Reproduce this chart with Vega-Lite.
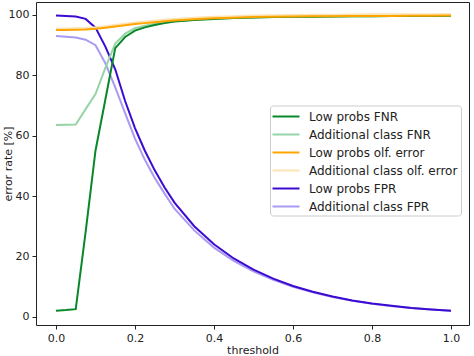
{
  "$schema": "https://vega.github.io/schema/vega-lite/v6.json",
  "width": 433,
  "height": 323,
  "autosize": "none",
  "padding": {"left": 36, "top": 2, "right": 5, "bottom": 31},
  "background": "white",
  "config": {
    "view": {"stroke": "#222", "strokeWidth": 1},
    "font": "DejaVu Sans",
    "axis": {
      "domain": false, "grid": false, "tickColor": "#222", "tickSize": 4, "tickWidth": 1,
      "labelFont": "DejaVu Sans", "labelFontSize": 11, "labelColor": "#222", "labelPadding": 3,
      "titleFont": "DejaVu Sans", "titleFontSize": 11, "titleFontWeight": "normal", "titleColor": "#222"
    }
  },
  "data": {"values": [
    {"s":"Additional class FPR","t":0,"v":93.0},{"s":"Additional class FPR","t":0.025,"v":92.8},{"s":"Additional class FPR","t":0.05,"v":92.5},{"s":"Additional class FPR","t":0.075,"v":91.8},{"s":"Additional class FPR","t":0.1,"v":90.0},{"s":"Additional class FPR","t":0.125,"v":84.0},{"s":"Additional class FPR","t":0.15,"v":76.0},{"s":"Additional class FPR","t":0.175,"v":67.5},{"s":"Additional class FPR","t":0.2,"v":59.0},{"s":"Additional class FPR","t":0.225,"v":52.0},{"s":"Additional class FPR","t":0.25,"v":46.0},{"s":"Additional class FPR","t":0.275,"v":40.8},{"s":"Additional class FPR","t":0.3,"v":35.8},{"s":"Additional class FPR","t":0.35,"v":28.6},{"s":"Additional class FPR","t":0.4,"v":22.9},{"s":"Additional class FPR","t":0.45,"v":18.5},{"s":"Additional class FPR","t":0.5,"v":15.0},{"s":"Additional class FPR","t":0.55,"v":12.2},{"s":"Additional class FPR","t":0.6,"v":9.9},{"s":"Additional class FPR","t":0.65,"v":8.1},{"s":"Additional class FPR","t":0.7,"v":6.5},{"s":"Additional class FPR","t":0.75,"v":5.3},{"s":"Additional class FPR","t":0.8,"v":4.3},{"s":"Additional class FPR","t":0.85,"v":3.5},{"s":"Additional class FPR","t":0.9,"v":2.9},{"s":"Additional class FPR","t":0.95,"v":2.4},{"s":"Additional class FPR","t":1.0,"v":2.0},
    {"s":"Low probs FPR","t":0,"v":99.8},{"s":"Low probs FPR","t":0.025,"v":99.7},{"s":"Low probs FPR","t":0.05,"v":99.5},{"s":"Low probs FPR","t":0.075,"v":98.7},{"s":"Low probs FPR","t":0.1,"v":95.8},{"s":"Low probs FPR","t":0.125,"v":89.5},{"s":"Low probs FPR","t":0.15,"v":82.0},{"s":"Low probs FPR","t":0.175,"v":71.5},{"s":"Low probs FPR","t":0.2,"v":62.5},{"s":"Low probs FPR","t":0.225,"v":55.0},{"s":"Low probs FPR","t":0.25,"v":48.5},{"s":"Low probs FPR","t":0.275,"v":42.8},{"s":"Low probs FPR","t":0.3,"v":37.8},{"s":"Low probs FPR","t":0.35,"v":30.0},{"s":"Low probs FPR","t":0.4,"v":24.0},{"s":"Low probs FPR","t":0.45,"v":19.3},{"s":"Low probs FPR","t":0.5,"v":15.6},{"s":"Low probs FPR","t":0.55,"v":12.6},{"s":"Low probs FPR","t":0.6,"v":10.2},{"s":"Low probs FPR","t":0.65,"v":8.3},{"s":"Low probs FPR","t":0.7,"v":6.7},{"s":"Low probs FPR","t":0.75,"v":5.4},{"s":"Low probs FPR","t":0.8,"v":4.4},{"s":"Low probs FPR","t":0.85,"v":3.6},{"s":"Low probs FPR","t":0.9,"v":2.9},{"s":"Low probs FPR","t":0.95,"v":2.4},{"s":"Low probs FPR","t":1.0,"v":2.0},
    {"s":"Additional class FNR","t":0,"v":63.5},{"s":"Additional class FNR","t":0.025,"v":63.6},{"s":"Additional class FNR","t":0.05,"v":63.7},{"s":"Additional class FNR","t":0.075,"v":68.8},{"s":"Additional class FNR","t":0.1,"v":73.8},{"s":"Additional class FNR","t":0.125,"v":82.5},{"s":"Additional class FNR","t":0.15,"v":90.5},{"s":"Additional class FNR","t":0.175,"v":93.8},{"s":"Additional class FNR","t":0.2,"v":95.6},{"s":"Additional class FNR","t":0.225,"v":96.4},{"s":"Additional class FNR","t":0.25,"v":97.0},{"s":"Additional class FNR","t":0.275,"v":97.5},{"s":"Additional class FNR","t":0.3,"v":97.9},{"s":"Additional class FNR","t":0.35,"v":98.4},{"s":"Additional class FNR","t":0.4,"v":98.8},{"s":"Additional class FNR","t":0.45,"v":99.0},{"s":"Additional class FNR","t":0.5,"v":99.2},{"s":"Additional class FNR","t":0.55,"v":99.3},{"s":"Additional class FNR","t":0.6,"v":99.4},{"s":"Additional class FNR","t":0.65,"v":99.5},{"s":"Additional class FNR","t":0.7,"v":99.5},{"s":"Additional class FNR","t":0.75,"v":99.6},{"s":"Additional class FNR","t":0.8,"v":99.6},{"s":"Additional class FNR","t":0.85,"v":99.65},{"s":"Additional class FNR","t":0.9,"v":99.7},{"s":"Additional class FNR","t":0.95,"v":99.7},{"s":"Additional class FNR","t":1.0,"v":99.75},
    {"s":"Low probs FNR","t":0,"v":2.0},{"s":"Low probs FNR","t":0.025,"v":2.2},{"s":"Low probs FNR","t":0.05,"v":2.5},{"s":"Low probs FNR","t":0.075,"v":28.0},{"s":"Low probs FNR","t":0.1,"v":55.0},{"s":"Low probs FNR","t":0.125,"v":72.0},{"s":"Low probs FNR","t":0.15,"v":89.0},{"s":"Low probs FNR","t":0.175,"v":92.7},{"s":"Low probs FNR","t":0.2,"v":94.8},{"s":"Low probs FNR","t":0.225,"v":95.9},{"s":"Low probs FNR","t":0.25,"v":96.7},{"s":"Low probs FNR","t":0.275,"v":97.3},{"s":"Low probs FNR","t":0.3,"v":97.8},{"s":"Low probs FNR","t":0.35,"v":98.3},{"s":"Low probs FNR","t":0.4,"v":98.7},{"s":"Low probs FNR","t":0.45,"v":99.0},{"s":"Low probs FNR","t":0.5,"v":99.2},{"s":"Low probs FNR","t":0.55,"v":99.3},{"s":"Low probs FNR","t":0.6,"v":99.4},{"s":"Low probs FNR","t":0.65,"v":99.45},{"s":"Low probs FNR","t":0.7,"v":99.5},{"s":"Low probs FNR","t":0.75,"v":99.55},{"s":"Low probs FNR","t":0.8,"v":99.6},{"s":"Low probs FNR","t":0.85,"v":99.65},{"s":"Low probs FNR","t":0.9,"v":99.7},{"s":"Low probs FNR","t":0.95,"v":99.7},{"s":"Low probs FNR","t":1.0,"v":99.75},
    {"s":"Additional class olf. error","t":0,"v":95.5},{"s":"Additional class olf. error","t":0.025,"v":95.5},{"s":"Additional class olf. error","t":0.05,"v":95.6},{"s":"Additional class olf. error","t":0.075,"v":95.7},{"s":"Additional class olf. error","t":0.1,"v":95.9},{"s":"Additional class olf. error","t":0.125,"v":96.3},{"s":"Additional class olf. error","t":0.15,"v":96.7},{"s":"Additional class olf. error","t":0.175,"v":97.1},{"s":"Additional class olf. error","t":0.2,"v":97.5},{"s":"Additional class olf. error","t":0.225,"v":97.8},{"s":"Additional class olf. error","t":0.25,"v":98.1},{"s":"Additional class olf. error","t":0.275,"v":98.4},{"s":"Additional class olf. error","t":0.3,"v":98.7},{"s":"Additional class olf. error","t":0.35,"v":99.1},{"s":"Additional class olf. error","t":0.4,"v":99.4},{"s":"Additional class olf. error","t":0.45,"v":99.6},{"s":"Additional class olf. error","t":0.5,"v":99.8},{"s":"Additional class olf. error","t":0.55,"v":99.9},{"s":"Additional class olf. error","t":0.6,"v":100.0},{"s":"Additional class olf. error","t":0.65,"v":100.05},{"s":"Additional class olf. error","t":0.7,"v":100.1},{"s":"Additional class olf. error","t":0.75,"v":100.15},{"s":"Additional class olf. error","t":0.8,"v":100.2},{"s":"Additional class olf. error","t":0.85,"v":100.2},{"s":"Additional class olf. error","t":0.9,"v":100.25},{"s":"Additional class olf. error","t":0.95,"v":100.25},{"s":"Additional class olf. error","t":1.0,"v":100.3},
    {"s":"Low probs olf. error","t":0,"v":95.0},{"s":"Low probs olf. error","t":0.025,"v":95.0},{"s":"Low probs olf. error","t":0.05,"v":95.1},{"s":"Low probs olf. error","t":0.075,"v":95.2},{"s":"Low probs olf. error","t":0.1,"v":95.4},{"s":"Low probs olf. error","t":0.125,"v":95.8},{"s":"Low probs olf. error","t":0.15,"v":96.2},{"s":"Low probs olf. error","t":0.175,"v":96.6},{"s":"Low probs olf. error","t":0.2,"v":97.0},{"s":"Low probs olf. error","t":0.225,"v":97.3},{"s":"Low probs olf. error","t":0.25,"v":97.6},{"s":"Low probs olf. error","t":0.275,"v":97.9},{"s":"Low probs olf. error","t":0.3,"v":98.2},{"s":"Low probs olf. error","t":0.35,"v":98.6},{"s":"Low probs olf. error","t":0.4,"v":98.9},{"s":"Low probs olf. error","t":0.45,"v":99.1},{"s":"Low probs olf. error","t":0.5,"v":99.3},{"s":"Low probs olf. error","t":0.55,"v":99.4},{"s":"Low probs olf. error","t":0.6,"v":99.5},{"s":"Low probs olf. error","t":0.65,"v":99.55},{"s":"Low probs olf. error","t":0.7,"v":99.6},{"s":"Low probs olf. error","t":0.75,"v":99.65},{"s":"Low probs olf. error","t":0.8,"v":99.7},{"s":"Low probs olf. error","t":0.85,"v":99.7},{"s":"Low probs olf. error","t":0.9,"v":99.75},{"s":"Low probs olf. error","t":0.95,"v":99.75},{"s":"Low probs olf. error","t":1.0,"v":99.8}
  ]},
  "mark": {"type": "line", "strokeWidth": 2, "clip": true},
  "encoding": {
    "x": {
      "field": "t", "type": "quantitative",
      "scale": {"domain": [-0.0506, 1.0456], "nice": false, "zero": false},
      "axis": {"values": [0, 0.2, 0.4, 0.6, 0.8, 1.0], "format": ".1f", "title": "threshold", "titleX": 216.5, "titleY": 25, "titleBaseline": "middle", "labelFlush": false}
    },
    "y": {
      "field": "v", "type": "quantitative",
      "scale": {"domain": [-2.75, 104.3], "nice": false, "zero": false},
      "axis": {"values": [0, 20, 40, 60, 80, 100], "title": "error rate [%]", "titleX": -28, "titleY": 161.5, "titleAngle": -90, "titleBaseline": "middle", "titleAlign": "center", "labelFlush": false}
    },
    "color": {
      "field": "s", "type": "nominal", "sort": null,
      "scale": {
        "domain": ["Low probs FNR", "Additional class FNR", "Low probs olf. error", "Additional class olf. error", "Low probs FPR", "Additional class FPR"],
        "range": ["#08882a", "#96d4a8", "#ffa500", "#fde3b3", "#3b0bd1", "#a99af2"]
      },
      "legend": {
        "title": null, "orient": "none", "legendX": 234, "legendY": 103.5,
        "symbolType": "M-2,0H2", "symbolSize": 182, "symbolStrokeWidth": 2, "symbolOffset": 5,
        "labelFont": "DejaVu Sans", "labelFontSize": 12, "labelColor": "#222", "labelOffset": 15,
        "rowPadding": 4, "padding": 3, "strokeColor": "#cccccc", "fillColor": "white", "cornerRadius": 3,
        "labelLimit": 300
      }
    }
  }
}
